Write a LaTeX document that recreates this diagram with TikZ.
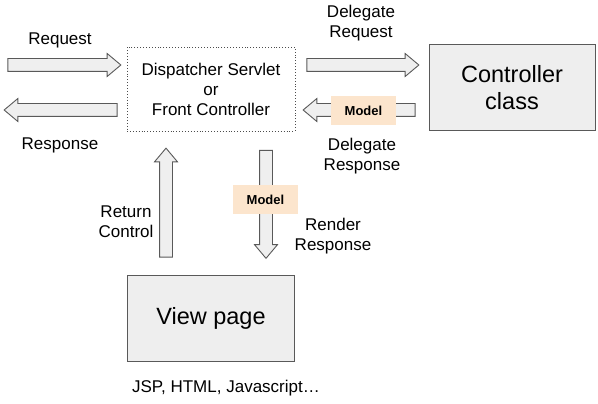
\documentclass[tikz,border=0pt]{standalone}
\usepackage{fontspec}
\setmainfont{Liberation Sans}
\usetikzlibrary{shapes.arrows}
\definecolor{boxfill}{HTML}{EEEEEE}
\definecolor{arrowfill}{HTML}{EFEFEF}
\definecolor{edge}{HTML}{595959}
\definecolor{peach}{HTML}{FCE5CD}
\tikzset{
  blockarrow/.style={single arrow, draw=edge, fill=arrowfill, line width=0.9pt,
    minimum width=22pt, single arrow head extend=5pt, single arrow tip angle=80,
    inner xsep=0pt, inner ysep=6pt, anchor=center},
  graybox/.style={draw=edge, fill=boxfill, line width=0.9pt, inner sep=0pt, align=center},
  modelbox/.style={fill=peach, minimum width=65pt, minimum height=29pt, inner sep=0pt,
    font=\fontsize{13}{15}\selectfont\bfseries},
  lbl/.style={align=center, inner sep=0pt, font=\fontsize{17}{20}\selectfont},
}
\begin{document}
\begin{tikzpicture}[x=1pt,y=-1pt]
\useasboundingbox (0,0) rectangle (598,404);
% main boxes
\node[draw=black!70, dotted, line width=0.9pt, minimum width=168pt, minimum height=84pt,
  inner sep=0pt, align=center, font=\fontsize{17}{20}\selectfont] (ds) at (211,89)
  {Dispatcher Servlet\\or\\Front Controller};
\node[graybox, minimum width=166pt, minimum height=86pt,
  font=\fontsize{23.5}{27}\selectfont] (cc) at (512,87.5) {Controller\\class};
\node[graybox, minimum width=167pt, minimum height=86pt,
  font=\fontsize{23.5}{27}\selectfont] (vp) at (211,318) {View page};
% block arrows
\node[blockarrow, minimum height=113pt] (req) at (60.5,65) {};
\node[blockarrow, minimum height=113pt, rotate=180] (resp) at (64.5,110) {};
\node[blockarrow, minimum height=112pt] (dreq) at (359,65) {};
\node[blockarrow, minimum height=112pt, rotate=180] (dresp) at (363,110) {};
\node[blockarrow, minimum height=109pt, rotate=90] (ret) at (166,206.5) {};
\node[blockarrow, minimum height=108pt, rotate=-90] (rend) at (266,200.5) {};
% model labels
\node[modelbox] (m1) at (363.5,110.5) {Model};
\node[modelbox] (m2) at (265.5,199.5) {Model};
% text labels
\node[lbl] (treq) at (60,40) {Request};
\node[lbl] (tresp) at (60,145) {Response};
\node[lbl] (tdreq) at (361,23) {Delegate\\Request};
\node[lbl] (tdresp) at (362,156) {Delegate\\Response};
\node[lbl] (tret) at (126,222) {Return\\Control};
\node[lbl] (trend) at (333,236.5) {Render\\Response};
\node[lbl] (tjsp) at (226,388) {JSP, HTML, Javascript…};
\end{tikzpicture}
\end{document}
